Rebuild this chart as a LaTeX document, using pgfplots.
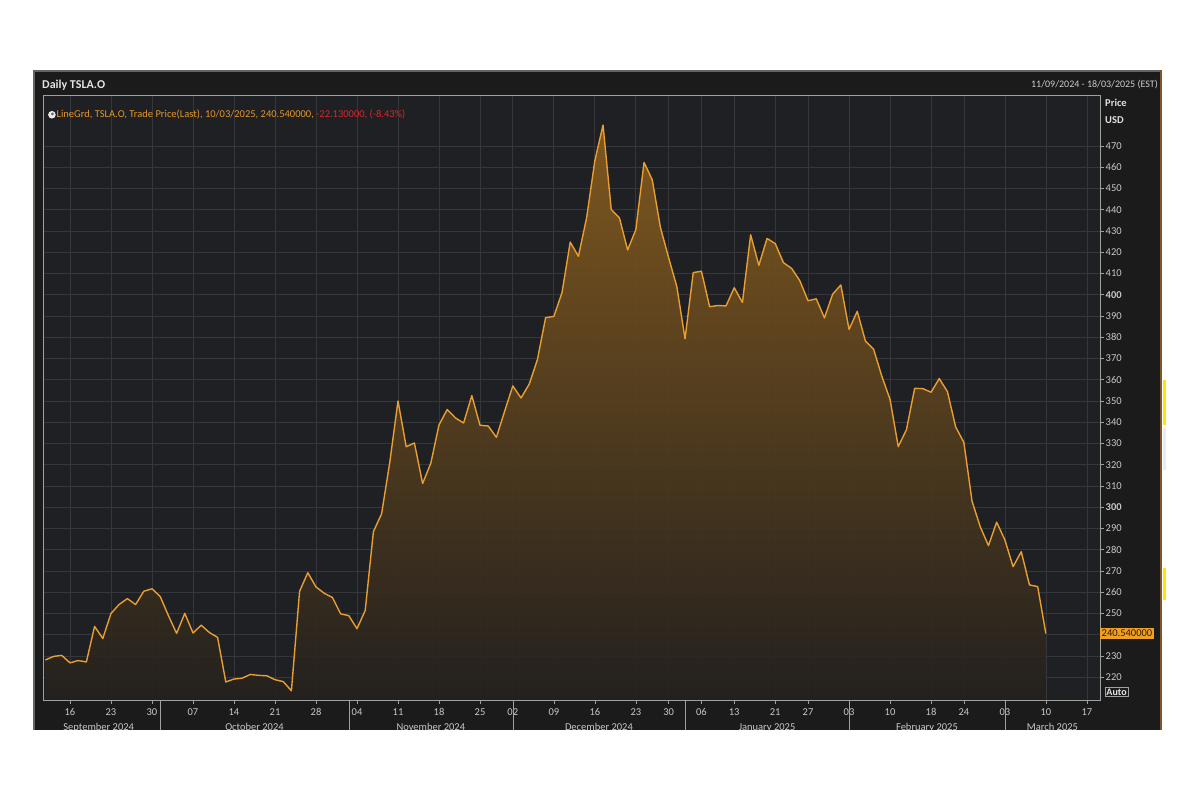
\documentclass[border=0pt]{standalone}
\usepackage{pgfplots}
\usepackage{pgfplotstable}
\pgfplotsset{compat=1.18}
\usepackage{fontspec}
\setmainfont{Carlito}
\definecolor{panel}{RGB}{27,27,27}
\definecolor{plotbg}{RGB}{31,32,35}
\definecolor{borderg}{RGB}{100,100,100}
\definecolor{axisg}{RGB}{160,160,160}
\definecolor{gridc}{RGB}{54,55,58}
\definecolor{tickc}{RGB}{200,200,200}
\definecolor{lineor}{RGB}{232,158,50}
\definecolor{filltop}{RGB}{135,92,30}
\definecolor{fillbot}{RGB}{36,33,30}
\definecolor{legor}{RGB}{230,150,40}
\definecolor{legred}{RGB}{225,35,35}
\definecolor{valor}{RGB}{240,160,32}
\definecolor{edgeor}{RGB}{130,85,40}

\pgfplotstableread{
i p
0 228.13
1 229.81
2 230.29
3 226.78
4 227.87
5 227.20
6 243.92
7 238.25
8 250.00
9 254.27
10 257.02
11 254.22
12 260.46
13 261.63
14 258.02
15 249.02
16 240.66
17 250.08
18 240.83
19 244.50
20 241.05
21 238.77
22 217.80
23 219.16
24 219.57
25 221.33
26 220.89
27 220.70
28 218.85
29 217.97
30 213.65
31 260.48
32 269.19
33 262.51
34 259.52
35 257.55
36 249.85
37 248.98
38 242.84
39 251.44
40 288.53
41 296.91
42 321.22
43 350.00
44 328.49
45 330.24
46 311.18
47 320.72
48 338.74
49 346.00
50 342.03
51 339.64
52 352.56
53 338.59
54 338.23
55 332.89
56 345.16
57 357.09
58 351.42
59 357.93
60 369.49
61 389.22
62 389.79
63 400.99
64 424.77
65 418.10
66 436.23
67 463.02
68 479.86
69 440.13
70 436.17
71 421.06
72 430.60
73 462.28
74 454.13
75 431.66
76 417.41
77 403.84
78 379.28
79 410.44
80 411.05
81 394.36
82 394.94
83 394.74
84 403.31
85 396.36
86 428.22
87 413.82
88 426.50
89 424.07
90 415.11
91 412.38
92 406.58
93 397.15
94 398.09
95 389.10
96 400.28
97 404.60
98 383.68
99 392.21
100 378.17
101 374.32
102 361.62
103 350.73
104 328.50
105 336.51
106 355.94
107 355.84
108 354.11
109 360.56
110 354.40
111 337.80
112 330.53
113 302.80
114 290.80
115 281.95
116 292.98
117 284.65
118 272.04
119 279.10
120 263.45
121 262.67
122 240.54
}\pricedata

\begin{document}
\begin{tikzpicture}[x=1pt,y=1pt]
% page and panel
\fill[white] (0,0) rectangle (1200,800);
\fill[panel] (33,70) rectangle (1162,730);
\draw[borderg, line width=2pt] (33,729) -- (1162,729);
\draw[borderg, line width=2pt] (34,70) -- (34,730);
\draw[edgeor, line width=1.5pt] (1161,70) -- (1161,730);
\fill[yellow!90!orange] (1163,375) rectangle (1166,420);
\fill[yellow!90!orange] (1163,200) rectangle (1166,232);
\fill[white!85!gray] (1163,330) rectangle (1166,372);
% headers
\node[anchor=west, inner sep=0pt, text={rgb,255:red,228;green,228;blue,228}, font=\bfseries\fontsize{12}{14}\selectfont] at (42,715) {Daily TSLA.O};
\node[anchor=east, inner sep=0pt, text={rgb,255:red,205;green,205;blue,205}, font=\fontsize{10}{12}\selectfont] at (1158,715) {11/09/2024 - 18/03/2025 (EST)};
\begin{axis}[
  at={(43pt,100pt)}, anchor=south west,
  scale only axis, width=1057pt, height=605pt,
  xmin=-0.29, xmax=128.6, ymin=209.3, ymax=494,
  axis background/.style={fill=plotbg},
  axis line style={draw=axisg, line width=0.8pt},
  xtick={3,8,13,18,23,28,33,38,43,48,53,57,62,67,72,76,80,84,89,93,98,103,108,112,117,122,127},
  xticklabels={16,23,30,07,14,21,28,04,11,18,25,02,09,16,23,30,06,13,21,27,03,10,18,24,03,10,17},
  ytick={220,230,...,470},
  yticklabels={220,230,{},250,260,270,280,290,\textbf{300},310,320,330,340,350,360,370,380,390,\textbf{400},410,420,430,440,450,460,470},
  xtick pos=bottom, ytick pos=right, yticklabel pos=right,
  tick align=outside, major tick length=4pt,
  tick style={draw=axisg, line width=0.6pt},
  grid=major,
  major grid style={draw=gridc, line width=0.7pt},
  ticklabel style={font=\fontsize{10.5}{12}\selectfont, text=tickc},
  xticklabel style={inner sep=1.5pt, yshift=-3pt},
  yticklabel style={inner sep=1.5pt},
  clip=false,
]
\addplot[draw=none, top color=filltop, bottom color=fillbot, fill opacity=0.92]
  table[x=i, y=p] {\pricedata} -- (122,209.3) -- (0,209.3) -- cycle;
\addplot[lineor, line width=1.4pt, line join=round, mark=none] table[x=i, y=p] {\pricedata};
% month separators
\pgfplotsinvokeforeach{14,37,57,78,98,117}{
  \draw[axisg, line width=0.6pt] (axis cs:#1,209.3) -- ++(0pt,-32pt);
}
% month labels
\node[anchor=north, inner sep=0pt, text=tickc, font=\fontsize{10.5}{12}\selectfont] at ([yshift=-23pt]axis cs:6.5,209.3) {September 2024};
\node[anchor=north, inner sep=0pt, text=tickc, font=\fontsize{10.5}{12}\selectfont] at ([yshift=-23pt]axis cs:25.5,209.3) {October 2024};
\node[anchor=north, inner sep=0pt, text=tickc, font=\fontsize{10.5}{12}\selectfont] at ([yshift=-23pt]axis cs:47,209.3) {November 2024};
\node[anchor=north, inner sep=0pt, text=tickc, font=\fontsize{10.5}{12}\selectfont] at ([yshift=-23pt]axis cs:67.5,209.3) {December 2024};
\node[anchor=north, inner sep=0pt, text=tickc, font=\fontsize{10.5}{12}\selectfont] at ([yshift=-23pt]axis cs:88,209.3) {January 2025};
\node[anchor=north, inner sep=0pt, text=tickc, font=\fontsize{10.5}{12}\selectfont] at ([yshift=-23pt]axis cs:107.5,209.3) {February 2025};
\node[anchor=north, inner sep=0pt, text=tickc, font=\fontsize{10.5}{12}\selectfont] at ([yshift=-23pt]axis cs:122.8,209.3) {March 2025};
% legend line
\fill[white!85!gray] (axis cs:0.8,484.7) circle (3.8pt);
\fill[black!60] ([xshift=0.5pt,yshift=0.8pt]axis cs:0.8,484.7) circle (1.6pt);
\node[anchor=west, inner sep=0pt, font=\fontsize{10.5}{12}\selectfont] at ([xshift=2pt]axis cs:1.1,484.7) {\textcolor{legor}{LineGrd, TSLA.O, Trade Price(Last), 10/03/2025, 240.540000, }\textcolor{legred}{-22.130000, (-8.43\%)}};
% price / usd
\node[anchor=west, inner sep=0pt, text={rgb,255:red,225;green,225;blue,225}, font=\bfseries\fontsize{10.5}{12}\selectfont] at ([xshift=5pt]axis cs:128.6,490.2) {Price};
\node[anchor=west, inner sep=0pt, text={rgb,255:red,225;green,225;blue,225}, font=\bfseries\fontsize{10.5}{12}\selectfont] at ([xshift=5pt]axis cs:128.6,482.2) {USD};
% current value box
\node[anchor=west, fill=valor, inner xsep=1.5pt, inner ysep=2pt, text={rgb,255:red,50;green,25;blue,0}, font=\fontsize{10.5}{12}\selectfont] at (axis cs:128.6,240.54) {240.540000};
% auto box
\node[anchor=west, draw=axisg, line width=0.6pt, inner sep=1.2pt, text={rgb,255:red,230;green,230;blue,230}, font=\bfseries\fontsize{10}{12}\selectfont] at ([xshift=5pt]axis cs:128.6,213.1) {Auto};
\end{axis}
% cut the bottom like the screenshot
\fill[white] (0,0) rectangle (1200,70);
\fill[white] (1166,0) rectangle (1200,800);
\end{tikzpicture}
\end{document}
